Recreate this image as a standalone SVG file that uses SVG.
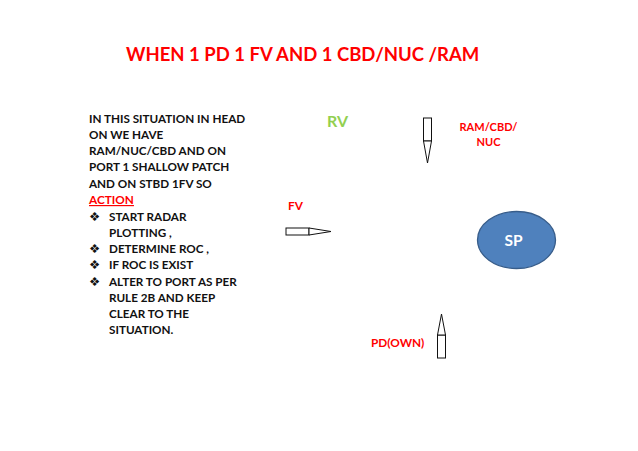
<svg xmlns="http://www.w3.org/2000/svg" width="638" height="451" viewBox="0 0 638 451">
<style>
text{font-family:"Lato","Liberation Sans",sans-serif;font-weight:700}
.b{font-size:11.7px;fill:#111}
.r{font-size:11.8px;fill:#f00}
.d{font-family:"DejaVu Sans",sans-serif;font-size:12.5px;font-weight:400;fill:#111}
.s{fill:#fff;stroke:#111;stroke-width:1}
</style>
<rect width="638" height="451" fill="#fff"/>
<text id="title" x="126" y="60.5" font-size="18.5" fill="#f00">WHEN 1 PD 1 FV AND 1 CBD/NUC /RAM</text>
<g id="body">
<text class="b" x="89" y="122.5">IN THIS SITUATION IN HEAD</text>
<text class="b" x="89" y="138.8">ON WE HAVE</text>
<text class="b" x="89" y="155.1">RAM/NUC/CBD AND ON</text>
<text class="b" x="89" y="171.4">PORT 1 SHALLOW PATCH</text>
<text class="b" x="89" y="187.7">AND ON STBD 1FV SO</text>
<text class="r" x="89" y="204" text-decoration="underline">ACTION</text>
<text class="d" x="89" y="221">❖</text>
<text class="b" x="109" y="220.5">START RADAR</text>
<text class="b" x="109" y="236.6">PLOTTING ,</text>
<text class="d" x="89" y="253">❖</text>
<text class="b" x="109" y="252.9">DETERMINE ROC ,</text>
<text class="d" x="89" y="269.3">❖</text>
<text class="b" x="109" y="269.2">IF ROC IS EXIST</text>
<text class="d" x="89" y="285.6">❖</text>
<text class="b" x="109" y="285.5">ALTER TO PORT AS PER</text>
<text class="b" x="109" y="301.8">RULE 2B AND KEEP</text>
<text class="b" x="109" y="318.1">CLEAR TO THE</text>
<text class="b" x="109" y="334.4">SITUATION.</text>
</g>
<g id="rv"><text x="327" y="127" font-size="16" fill="#92d050">RV</text></g>
<g id="ram">
<rect class="s" x="423.5" y="118" width="8" height="23"/>
<path class="s" d="M423.5 141H431.5L427.5 163Z"/>
<text class="r" style="font-size:11px" x="488.5" y="131" text-anchor="middle">RAM/CBD/</text>
<text class="r" style="font-size:11px" x="488.5" y="146" text-anchor="middle">NUC</text>
</g>
<g id="fv">
<text class="r" x="288" y="210">FV</text>
<rect class="s" x="286" y="228" width="23" height="7"/>
<path class="s" d="M309 228V235L331 231.5Z"/>
</g>
<g id="sp">
<ellipse cx="516.5" cy="240" rx="39" ry="28.5" fill="#4f81bd" stroke="#385d8a" stroke-width="1.3"/>
<text x="513.5" y="246" font-size="15.5" fill="#fff" text-anchor="middle">SP</text>
</g>
<g id="pd">
<rect class="s" x="437.5" y="335" width="8" height="23"/>
<path class="s" d="M437.5 335H445.5L441.5 314Z"/>
<text class="r" x="371" y="347">PD(OWN)</text>
</g>
<g id="connectors"/>
</svg>
